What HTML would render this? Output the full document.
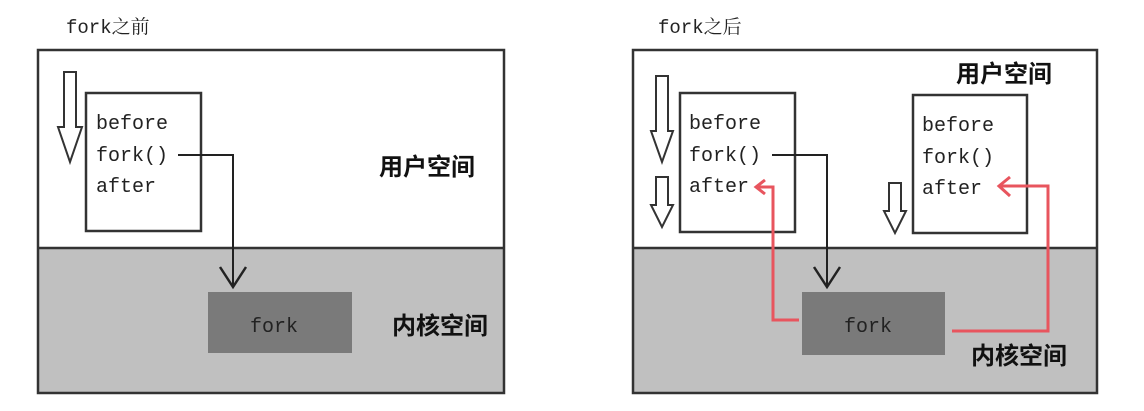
<!DOCTYPE html>
<html><head><meta charset="utf-8"><style>body{margin:0;background:#fff}svg{display:block}</style></head><body>
<svg width="1144" height="411" viewBox="0 0 1144 411" xmlns="http://www.w3.org/2000/svg">
<g font-family="'Liberation Mono','Noto Serif CJK SC',monospace" fill="#222">
<text x="66" y="33" font-size="19">fork之前</text>
<text x="658" y="33" font-size="19">fork之后</text>
</g>
<!-- LEFT PANEL -->
<rect x="38" y="248" width="466" height="145" fill="#c0c0c0"/>
<rect x="38" y="50" width="466" height="343" fill="none" stroke="#333" stroke-width="2.5"/>
<line x1="38" y1="248" x2="504" y2="248" stroke="#333" stroke-width="2.5"/>
<rect x="86" y="93" width="115" height="138" fill="#fff" stroke="#333" stroke-width="2.5"/>
<g transform="translate(70,72)"><path d="M-6,0 L6,0 L6,55 L12,55 L0,90 L-12,55 L-6,55 Z" fill="#fff" stroke="#333" stroke-width="2"/></g>
<g font-family="'Liberation Mono',monospace" font-size="20" fill="#222">
<text x="96" y="129">before</text><text x="96" y="161">fork()</text><text x="96" y="192">after</text>
</g>
<polyline points="178,155 233,155 233,287" fill="none" stroke="#222" stroke-width="2"/>
<polyline points="220,267 233,287 246,267" fill="none" stroke="#222" stroke-width="2.5"/>
<rect x="208" y="292" width="144" height="61" fill="#7a7a7a"/>
<text x="274" y="332" font-family="'Liberation Mono',monospace" font-size="20" fill="#222" text-anchor="middle">fork</text>
<g font-family="'Liberation Sans','Noto Sans CJK SC',sans-serif" font-size="24" font-weight="bold" fill="#111">
<text x="379" y="175">用户空间</text>
<text x="392" y="334">内核空间</text>
</g>
<!-- RIGHT PANEL -->
<rect x="633" y="248" width="464" height="145" fill="#c0c0c0"/>
<rect x="633" y="50" width="464" height="343" fill="none" stroke="#333" stroke-width="2.5"/>
<line x1="633" y1="248" x2="1097" y2="248" stroke="#333" stroke-width="2.5"/>
<rect x="680" y="93" width="115" height="139" fill="#fff" stroke="#333" stroke-width="2.5"/>
<rect x="913" y="95" width="114" height="138" fill="#fff" stroke="#333" stroke-width="2.5"/>
<g transform="translate(662,76)"><path d="M-6,0 L6,0 L6,55 L11,55 L0,86 L-11,55 L-6,55 Z" fill="#fff" stroke="#333" stroke-width="2"/></g>
<g transform="translate(662,177)"><path d="M-6,0 L6,0 L6,28 L11,28 L0,50 L-11,28 L-6,28 Z" fill="#fff" stroke="#333" stroke-width="2"/></g>
<g transform="translate(895,183)"><path d="M-6,0 L6,0 L6,28 L11,28 L0,50 L-11,28 L-6,28 Z" fill="#fff" stroke="#333" stroke-width="2"/></g>
<g font-family="'Liberation Mono',monospace" font-size="20" fill="#222">
<text x="689" y="129">before</text><text x="689" y="161">fork()</text><text x="689" y="192">after</text>
<text x="922" y="131">before</text><text x="922" y="163">fork()</text><text x="922" y="194">after</text>
</g>
<polyline points="772,155 827,155 827,287" fill="none" stroke="#222" stroke-width="2"/>
<polyline points="814,267 827,287 840,267" fill="none" stroke="#222" stroke-width="2.5"/>
<rect x="802" y="292" width="143" height="63" fill="#7a7a7a"/>
<text x="868" y="332" font-family="'Liberation Mono',monospace" font-size="20" fill="#222" text-anchor="middle">fork</text>
<g stroke="#e8555e" stroke-width="3" fill="none">
<polyline points="799,320 773,320 773,187 757,187"/>
<polyline points="765,180 756,187 765,194"/>
<polyline points="952,331 1048,331 1048,186 1000,186"/>
<polyline points="1010,177 999,186 1010,196"/>
</g>
<g font-family="'Liberation Sans','Noto Sans CJK SC',sans-serif" font-size="24" font-weight="bold" fill="#111">
<text x="956" y="82">用户空间</text>
<text x="971" y="364">内核空间</text>
</g>
</svg>
</body></html>
